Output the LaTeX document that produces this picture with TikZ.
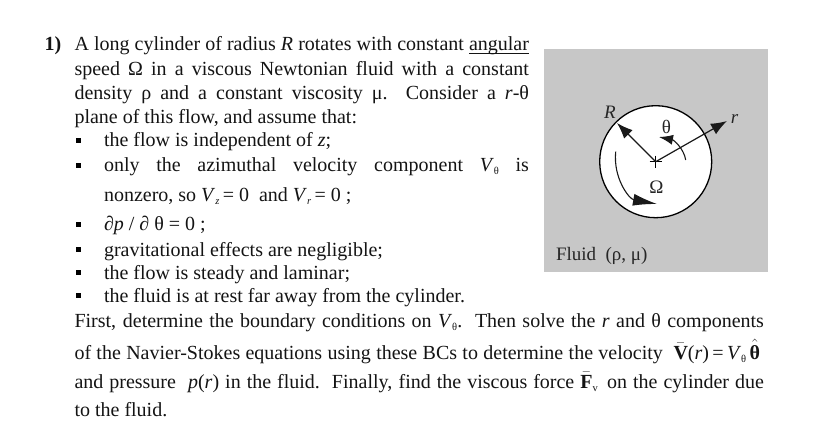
\documentclass[tikz,border=0pt]{standalone}
\usepackage{fontspec}
\setmainfont{Liberation Serif}
\usetikzlibrary{arrows.meta}
\newcommand{\sbs}[1]{\raisebox{-3.5pt}{\fontsize{10.5}{11}\selectfont #1}}
\newcommand{\IT}[1]{\textit{#1}}
\newcommand{\jline}[4]{\node[txt] (#4) at (#1) {\hbox to #2pt{#3}};}
\newcommand{\fline}[3]{\node[txt] (#3) at (#1) {#2};}
\tikzset{
  txt/.style={anchor=base west,inner sep=0pt,outer sep=0pt,font=\fontsize{20}{24}\selectfont,text=black!92},
  fig/.style={anchor=base,inner sep=0pt,outer sep=0pt,font=\fontsize{19}{22}\selectfont,text=black!85},
  bul/.style={fill=black,inner sep=0pt,minimum size=5pt,outer sep=0pt},
  armarrow/.style={line width=1.2pt,draw=black!90,-{Latex[length=16pt,width=12pt]}},
  turn/.style={line width=1.1pt,draw=black!90},
  thetahead/.style={turn,-{Latex[length=14pt,width=10pt]}},
  omegahead/.style={turn,-{Latex[length=24pt,width=12pt]}}
}
\begin{document}
\begin{tikzpicture}[x=1pt,y=-1pt]
\useasboundingbox[fill=white] (0,0) rectangle (813,436);
% figure
\fill[black!22] (544,49) rectangle (768,272);
\node[circle,draw=black,fill=white,line width=1.3pt,minimum size=112pt,inner sep=0pt] (cyl) at (655.7,161.7) {};
\coordinate (c) at (655.7,161.7);
\draw[line width=1pt] (649.7,161.7) -- (661.7,161.7) (655.7,155.7) -- (655.7,167.7);
\coordinate (Rtip) at (617,123);
\coordinate (rtip) at (727,121);
\draw[armarrow] (c) -- (Rtip);
\draw[armarrow] (c) -- (rtip);
\coordinate (ts) at (685.7,160);
\coordinate (te) at (659,137);
\draw[thetahead] (ts) .. controls (684,149) and (674,140) .. (te);
\coordinate (os) at (615.7,151.7);
\coordinate (oe) at (657,204);
\draw[omegahead] (os) .. controls (613,178) and (629,199) .. (oe);
\node[fig] (lR) at (610,118) {\IT{R}};
\node[fig] (lr) at (734.5,123) {\IT{r}};
\node[fig] (lt) at (666.5,133) {θ};
\node[fig] (lO) at (656.5,193) {Ω};
\node[fig,anchor=base west] (lF) at (556,260) {Fluid\ \ (ρ, μ)};
% text
\node[txt,font=\fontsize{20}{24}\selectfont\bfseries] (num) at (44.5,51) {1)};
\jline{74.5,51}{454.5}{A long cylinder of radius \IT{R} rotates with constant \rlap{\rule[-2.6pt]{60pt}{0.9pt}}angular}{l1}
\jline{74.5,75}{454.5}{speed Ω in a viscous Newtonian fluid with a constant}{l2}
\jline{74.5,99}{454.5}{density ρ and a constant viscosity μ.\ \ Consider a \IT{r}-θ}{l3}
\fline{74.5,123}{plane of this flow, and assume that:}{l4}
\foreach \n/\yy in {b1/140,b2/165,b3/224,b4/249,b5/272,b6/295}{\node[bul] (\n) at (78,\yy) {};}
\fline{104,146}{the flow is independent of \IT{z};}{l5}
\jline{104,171}{425}{only the azimuthal velocity component \IT{V}\sbs{θ} is}{l6}
\fline{104,201}{nonzero, so \IT{V}\sbs{\IT{z}}\,= 0\ \ and \IT{V}\sbs{\IT{r}}\,= 0 ;}{l7}
\fline{104,230}{∂\IT{p} / ∂ θ = 0 ;}{l8}
\fline{104,256}{gravitational effects are negligible;}{l9}
\fline{104,279}{the flow is steady and laminar;}{l10}
\fline{104,302}{the fluid is at rest far away from the cylinder.}{l11}
\jline{74.5,327}{689.5}{First, determine the boundary conditions on \IT{V}\sbs{θ}.\ \ Then solve the \IT{r} and θ components}{l12}
\jline{74.5,359}{685.5}{of the Navier-Stokes equations using these BCs to determine the velocity \ $\bar{\mbox{\textbf{V}}}$(\IT{r})\,=\,\IT{V}\sbs{θ}\,$\hat{\mbox{\textbf{θ}}}$}{l13}
\jline{74.5,388}{689.5}{and pressure \ \IT{p}(\IT{r}) in the fluid.\ \ Finally, find the viscous force $\bar{\mbox{\textbf{F}}}$\sbs{v} \,on the cylinder due}{l14}
\fline{74.5,416}{to the fluid.}{l15}
\end{tikzpicture}
\end{document}
